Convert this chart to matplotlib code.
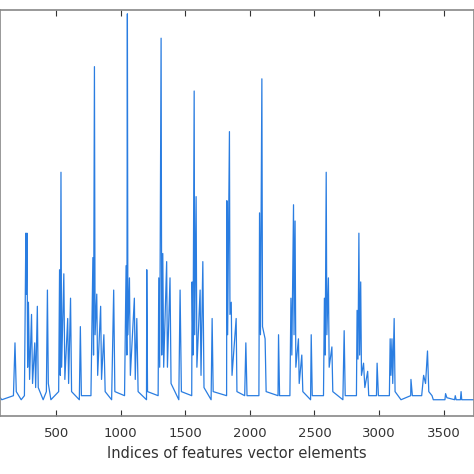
import matplotlib
matplotlib.use("Agg")
import matplotlib.pyplot as plt

vx = [0,20,30,45,55,80,170,182,192,230,255,263,266,270,275,280,286,295,310,318,335,342,355,362,400,425,433,440,460,
      520,527,533,538,543,560,568,590,597,612,620,680,688,696,770,785,790,797,802,815,822,845,852,870,880,930,946,955,
      1030,1042,1048,1052,1056,1068,1075,1106,1113,1125,1135,1200,1202,1208,1290,1295,1302,1313,1318,1326,1333,1356,1362,
      1382,1390,1450,1460,1470,1550,1553,1560,1569,1573,1584,1590,1615,1622,1636,1645,1700,1708,1716,1820,1822,1828,1842,
      1846,1856,1862,1894,1900,1960,1969,1978,2070,2075,2082,2093,2098,2118,2126,2218,2222,2230,2310,2318,2325,2338,2342,
      2350,2356,2376,2382,2402,2410,2470,2475,2483,2570,2577,2583,2591,2596,2608,2614,2635,2642,2720,2730,2738,2825,2830,
      2837,2844,2850,2858,2864,2880,2890,2912,2920,2980,2985,2995,3080,3086,3092,3100,3106,3117,3124,3170,3245,3247,3258,
      3330,3345,3360,3375,3385,3410,3420,3510,3515,3525,3585,3590,3597,3630,3635,3640,3740]
vy = [0.06,0.09,0.05,0.10,0.05,0.04,0.05,0.18,0.06,0.04,0.05,0.36,0.45,0.30,0.45,0.12,0.28,0.09,0.25,0.08,0.18,0.07,0.27,0.07,0.04,0.06,0.31,0.08,0.04,
      0.06,0.36,0.10,0.60,0.12,0.35,0.09,0.24,0.08,0.29,0.06,0.04,0.22,0.05,0.05,0.39,0.15,0.86,0.20,0.30,0.10,0.27,0.09,0.20,0.06,0.04,0.31,0.06,
      0.05,0.37,0.15,0.99,0.20,0.34,0.10,0.29,0.09,0.24,0.06,0.04,0.36,0.06,0.05,0.34,0.12,0.93,0.15,0.40,0.12,0.38,0.12,
      0.34,0.08,0.04,0.31,0.06,0.05,0.33,0.15,0.80,0.20,0.54,0.12,0.31,0.10,0.38,0.07,0.04,0.24,0.06,0.05,0.53,0.20,0.70,
      0.25,0.28,0.10,0.24,0.06,0.05,0.18,0.05,0.05,0.50,0.20,0.83,0.22,0.19,0.06,0.05,0.20,0.05,0.05,0.29,0.15,0.52,0.20,
      0.48,0.12,0.19,0.08,0.15,0.06,0.04,0.20,0.05,0.05,0.29,0.15,0.60,0.20,0.34,0.12,0.17,0.06,0.04,0.21,0.05,0.05,0.26,
      0.14,0.45,0.15,0.33,0.10,0.13,0.07,0.11,0.05,0.05,0.13,0.05,0.05,0.19,0.10,0.19,0.08,0.24,0.06,0.04,0.05,0.09,0.05,
      0.05,0.10,0.08,0.16,0.06,0.05,0.04,0.04,0.055,0.045,0.04,0.05,0.04,0.04,0.06,0.04,0.04]
xticks = [500,1000,1500,2000,2500,3000,3500]
xlabel = "Indices of features vector elements"

fig = plt.figure(figsize=(4.74,4.74), dpi=100)
ax = fig.add_axes([0.0, 0.1224, 1.0, 0.857])
ax.plot(vx, vy, color='#2a7de1', lw=0.9)
ax.set_xlim(66, 3735)
ax.set_ylim(0, 1)
ax.set_xticks(xticks)
ax.set_yticks([])
ax.tick_params(axis='x', direction='in', top=True, labelsize=9.5, colors='#333333', length=4, pad=8)
for s in ax.spines.values():
    s.set_color('#888888'); s.set_linewidth(1.2)
ax.set_xlabel(xlabel, fontsize=10.5, color='#333333', labelpad=4)
fig.savefig("out.png", dpi=100)
